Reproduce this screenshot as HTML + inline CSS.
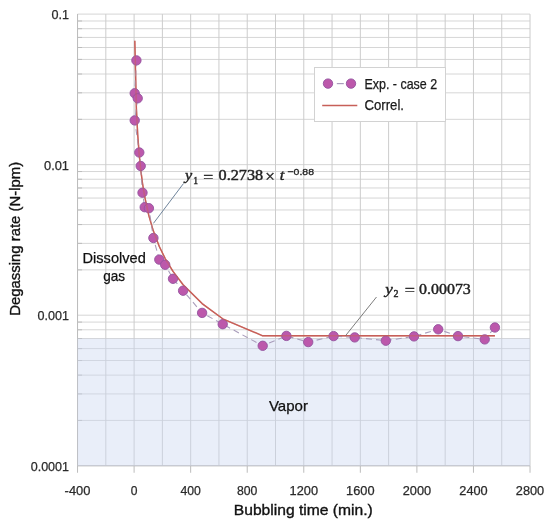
<!DOCTYPE html>
<html><head><meta charset="utf-8"><title>Degassing rate</title>
<style>html,body{margin:0;padding:0;background:#fff}svg{display:block}</style></head>
<body>
<svg width="550" height="525" viewBox="0 0 550 525">
<rect width="550" height="525" fill="#ffffff"/>
<path d="M77.54 465.75H530.02M77.54 420.43H530.02M77.54 393.92H530.02M77.54 375.11H530.02M77.54 360.52H530.02M77.54 348.60H530.02M77.54 338.52H530.02M77.54 329.79H530.02M77.54 322.09H530.02M77.54 315.20H530.02M77.54 269.88H530.02M77.54 243.37H530.02M77.54 224.56H530.02M77.54 209.97H530.02M77.54 198.05H530.02M77.54 187.97H530.02M77.54 179.24H530.02M77.54 171.54H530.02M77.54 164.65H530.02M77.54 119.33H530.02M77.54 92.82H530.02M77.54 74.01H530.02M77.54 59.42H530.02M77.54 47.50H530.02M77.54 37.42H530.02M77.54 28.69H530.02M77.54 20.99H530.02M77.54 14.10H530.02" stroke="#d6d6d6" stroke-width="1" fill="none"/>
<path d="M77.54 14.10V465.75M105.82 14.10V465.75M134.10 14.10V465.75M162.38 14.10V465.75M190.66 14.10V465.75M218.94 14.10V465.75M247.22 14.10V465.75M275.50 14.10V465.75M303.78 14.10V465.75M332.06 14.10V465.75M360.34 14.10V465.75M388.62 14.10V465.75M416.90 14.10V465.75M445.18 14.10V465.75M473.46 14.10V465.75M501.74 14.10V465.75M530.02 14.10V465.75" stroke="#cccccc" stroke-width="1" fill="none"/>
<path d="M77.54 465.75V472.75M134.10 465.75V472.75M190.66 465.75V472.75M247.22 465.75V472.75M303.78 465.75V472.75M360.34 465.75V472.75M416.90 465.75V472.75M473.46 465.75V472.75M530.02 465.75V472.75M77.54 420.43h4.5M77.54 393.92h4.5M77.54 375.11h4.5M77.54 360.52h4.5M77.54 348.60h4.5M77.54 338.52h4.5M77.54 329.79h4.5M77.54 322.09h4.5M77.54 269.88h4.5M77.54 243.37h4.5M77.54 224.56h4.5M77.54 209.97h4.5M77.54 198.05h4.5M77.54 187.97h4.5M77.54 179.24h4.5M77.54 171.54h4.5M77.54 119.33h4.5M77.54 92.82h4.5M77.54 74.01h4.5M77.54 59.42h4.5M77.54 47.50h4.5M77.54 37.42h4.5M77.54 28.69h4.5M77.54 20.99h4.5M77.54 14.10V465.75H530.02" stroke="#bcbcbc" stroke-width="1" fill="none"/>
<rect x="77.54" y="338.52" width="452.48" height="127.23" fill="#cbd7f0" fill-opacity="0.42"/>
<polyline points="134.81,40.85 136.40,108.84 137.71,134.59 139.30,155.69 140.70,169.40 142.50,183.24 144.70,196.66 148.90,215.86 153.40,231.12 159.30,246.45 165.19,258.55 173.00,271.44 183.10,284.71 202.10,303.57 222.70,318.80 262.70,335.78 286.40,335.78 308.21,335.78 333.60,335.78 354.70,335.78 385.81,335.78 414.00,335.78 438.19,335.78 458.00,335.78 484.70,335.78 494.90,335.78" fill="none" stroke="#c75f58" stroke-width="1.4" stroke-linejoin="round"/>
<polyline points="136.4,60.4 134.7,93.3 137.7,98.3 134.7,120.4 139.3,152.5 140.7,166 142.5,192.7 144.7,207.2 148.9,208.2 153.4,238 159.3,259.6 165.2,264.8 173,278.8 183.1,290.7 202.1,312.9 222.7,324.2 262.7,345.8 286.4,335.9 308.2,342.1 333.6,336.1 354.7,337.4 385.8,340.7 414,336.4 438.2,329.3 458,336.1 484.7,339.4 494.9,327.5" fill="none" stroke="#a99dbb" stroke-width="1.1" stroke-dasharray="6 4"/>
<circle cx="136.4" cy="60.4" r="4.7" fill="#bc58ab" stroke="#93549f" stroke-width="0.9"/>
<circle cx="134.7" cy="93.3" r="4.7" fill="#bc58ab" stroke="#93549f" stroke-width="0.9"/>
<circle cx="137.7" cy="98.3" r="4.7" fill="#bc58ab" stroke="#93549f" stroke-width="0.9"/>
<circle cx="134.7" cy="120.4" r="4.7" fill="#bc58ab" stroke="#93549f" stroke-width="0.9"/>
<circle cx="139.3" cy="152.5" r="4.7" fill="#bc58ab" stroke="#93549f" stroke-width="0.9"/>
<circle cx="140.7" cy="166" r="4.7" fill="#bc58ab" stroke="#93549f" stroke-width="0.9"/>
<circle cx="142.5" cy="192.7" r="4.7" fill="#bc58ab" stroke="#93549f" stroke-width="0.9"/>
<circle cx="144.7" cy="207.2" r="4.7" fill="#bc58ab" stroke="#93549f" stroke-width="0.9"/>
<circle cx="148.9" cy="208.2" r="4.7" fill="#bc58ab" stroke="#93549f" stroke-width="0.9"/>
<circle cx="153.4" cy="238" r="4.7" fill="#bc58ab" stroke="#93549f" stroke-width="0.9"/>
<circle cx="159.3" cy="259.6" r="4.7" fill="#bc58ab" stroke="#93549f" stroke-width="0.9"/>
<circle cx="165.2" cy="264.8" r="4.7" fill="#bc58ab" stroke="#93549f" stroke-width="0.9"/>
<circle cx="173" cy="278.8" r="4.7" fill="#bc58ab" stroke="#93549f" stroke-width="0.9"/>
<circle cx="183.1" cy="290.7" r="4.7" fill="#bc58ab" stroke="#93549f" stroke-width="0.9"/>
<circle cx="202.1" cy="312.9" r="4.7" fill="#bc58ab" stroke="#93549f" stroke-width="0.9"/>
<circle cx="222.7" cy="324.2" r="4.7" fill="#bc58ab" stroke="#93549f" stroke-width="0.9"/>
<circle cx="262.7" cy="345.8" r="4.7" fill="#bc58ab" stroke="#93549f" stroke-width="0.9"/>
<circle cx="286.4" cy="335.9" r="4.7" fill="#bc58ab" stroke="#93549f" stroke-width="0.9"/>
<circle cx="308.2" cy="342.1" r="4.7" fill="#bc58ab" stroke="#93549f" stroke-width="0.9"/>
<circle cx="333.6" cy="336.1" r="4.7" fill="#bc58ab" stroke="#93549f" stroke-width="0.9"/>
<circle cx="354.7" cy="337.4" r="4.7" fill="#bc58ab" stroke="#93549f" stroke-width="0.9"/>
<circle cx="385.8" cy="340.7" r="4.7" fill="#bc58ab" stroke="#93549f" stroke-width="0.9"/>
<circle cx="414" cy="336.4" r="4.7" fill="#bc58ab" stroke="#93549f" stroke-width="0.9"/>
<circle cx="438.2" cy="329.3" r="4.7" fill="#bc58ab" stroke="#93549f" stroke-width="0.9"/>
<circle cx="458" cy="336.1" r="4.7" fill="#bc58ab" stroke="#93549f" stroke-width="0.9"/>
<circle cx="484.7" cy="339.4" r="4.7" fill="#bc58ab" stroke="#93549f" stroke-width="0.9"/>
<circle cx="494.9" cy="327.5" r="4.7" fill="#bc58ab" stroke="#93549f" stroke-width="0.9"/>
<polyline points="134.81,40.85 136.40,108.84 137.71,134.59 139.30,155.69 140.70,169.40 142.50,183.24 144.70,196.66 148.90,215.86 153.40,231.12 159.30,246.45 165.19,258.55 173.00,271.44 183.10,284.71 202.10,303.57 222.70,318.80 262.70,335.78 286.40,335.78 308.21,335.78 333.60,335.78 354.70,335.78 385.81,335.78 414.00,335.78 438.19,335.78 458.00,335.78 484.70,335.78 494.90,335.78" fill="none" stroke="#c75f58" stroke-width="1.4" stroke-linejoin="round" stroke-opacity="0.5"/>
<path d="M153.4 223.4L183.5 183.5" stroke="#5f7690" stroke-width="0.9" fill="none"/>
<path d="M345.6 335.6L376.5 297" stroke="#6e6e6e" stroke-width="0.9" fill="none"/>
<rect x="314.5" y="67.5" width="131" height="54" fill="#ffffff" stroke="#d2d2d2" stroke-width="1"/>
<path d="M336.8 83.6H343.8" stroke="#a99dbb" stroke-width="1.2"/>
<circle cx="328" cy="83.6" r="4.7" fill="#bc58ab" stroke="#93549f" stroke-width="0.9"/><circle cx="351" cy="83.6" r="4.7" fill="#bc58ab" stroke="#93549f" stroke-width="0.9"/>
<path d="M322.2 105.5H357.3" stroke="#c75f58" stroke-width="1.4"/>
<text x="364.4" y="88.5" font-size="14.1" font-family="&quot;Liberation Sans&quot;, sans-serif" text-anchor="start" fill="#1a1a1a" stroke="#1a1a1a" stroke-width="0.25" textLength="72.8" lengthAdjust="spacingAndGlyphs">Exp. - case 2</text>
<text x="364.4" y="110.3" font-size="14.1" font-family="&quot;Liberation Sans&quot;, sans-serif" text-anchor="start" fill="#1a1a1a" stroke="#1a1a1a" stroke-width="0.25" textLength="39.6" lengthAdjust="spacingAndGlyphs">Correl.</text>
<text x="77.5" y="494.7" font-size="12.9" font-family="&quot;Liberation Sans&quot;, sans-serif" text-anchor="middle" fill="#2a2a2a" stroke="#2a2a2a" stroke-width="0.25" textLength="25.8" lengthAdjust="spacingAndGlyphs">-400</text>
<text x="134.1" y="494.7" font-size="12.9" font-family="&quot;Liberation Sans&quot;, sans-serif" text-anchor="middle" fill="#2a2a2a" stroke="#2a2a2a" stroke-width="0.25" textLength="6.7" lengthAdjust="spacingAndGlyphs">0</text>
<text x="190.7" y="494.7" font-size="12.9" font-family="&quot;Liberation Sans&quot;, sans-serif" text-anchor="middle" fill="#2a2a2a" stroke="#2a2a2a" stroke-width="0.25" textLength="20.4" lengthAdjust="spacingAndGlyphs">400</text>
<text x="247.2" y="494.7" font-size="12.9" font-family="&quot;Liberation Sans&quot;, sans-serif" text-anchor="middle" fill="#2a2a2a" stroke="#2a2a2a" stroke-width="0.25" textLength="20.4" lengthAdjust="spacingAndGlyphs">800</text>
<text x="303.8" y="494.7" font-size="12.9" font-family="&quot;Liberation Sans&quot;, sans-serif" text-anchor="middle" fill="#2a2a2a" stroke="#2a2a2a" stroke-width="0.25" textLength="28.4" lengthAdjust="spacingAndGlyphs">1200</text>
<text x="360.3" y="494.7" font-size="12.9" font-family="&quot;Liberation Sans&quot;, sans-serif" text-anchor="middle" fill="#2a2a2a" stroke="#2a2a2a" stroke-width="0.25" textLength="28.4" lengthAdjust="spacingAndGlyphs">1600</text>
<text x="416.9" y="494.7" font-size="12.9" font-family="&quot;Liberation Sans&quot;, sans-serif" text-anchor="middle" fill="#2a2a2a" stroke="#2a2a2a" stroke-width="0.25" textLength="28.4" lengthAdjust="spacingAndGlyphs">2000</text>
<text x="473.5" y="494.7" font-size="12.9" font-family="&quot;Liberation Sans&quot;, sans-serif" text-anchor="middle" fill="#2a2a2a" stroke="#2a2a2a" stroke-width="0.25" textLength="28.4" lengthAdjust="spacingAndGlyphs">2400</text>
<text x="530.0" y="494.7" font-size="12.9" font-family="&quot;Liberation Sans&quot;, sans-serif" text-anchor="middle" fill="#2a2a2a" stroke="#2a2a2a" stroke-width="0.25" textLength="28.4" lengthAdjust="spacingAndGlyphs">2800</text>
<text x="69" y="18.9" font-size="12.9" font-family="&quot;Liberation Sans&quot;, sans-serif" text-anchor="end" fill="#2a2a2a" stroke="#2a2a2a" stroke-width="0.25" textLength="17.5" lengthAdjust="spacingAndGlyphs">0.1</text>
<text x="69" y="169.5" font-size="12.9" font-family="&quot;Liberation Sans&quot;, sans-serif" text-anchor="end" fill="#2a2a2a" stroke="#2a2a2a" stroke-width="0.25" textLength="25" lengthAdjust="spacingAndGlyphs">0.01</text>
<text x="69" y="320.0" font-size="12.9" font-family="&quot;Liberation Sans&quot;, sans-serif" text-anchor="end" fill="#2a2a2a" stroke="#2a2a2a" stroke-width="0.25" textLength="31.4" lengthAdjust="spacingAndGlyphs">0.001</text>
<text x="69" y="470.6" font-size="12.9" font-family="&quot;Liberation Sans&quot;, sans-serif" text-anchor="end" fill="#2a2a2a" stroke="#2a2a2a" stroke-width="0.25" textLength="38.3" lengthAdjust="spacingAndGlyphs">0.0001</text>
<text x="233.8" y="514.7" font-size="14.9" font-family="&quot;Liberation Sans&quot;, sans-serif" text-anchor="start" fill="#111" stroke="#111" stroke-width="0.35" textLength="139" lengthAdjust="spacingAndGlyphs">Bubbling time (min.)</text>
<text transform="translate(20.4 315.8) rotate(-90)" font-size="15.4" font-family="&quot;Liberation Sans&quot;, sans-serif" fill="#111" stroke="#111" stroke-width="0.35" textLength="154" lengthAdjust="spacingAndGlyphs">Degassing rate (N-lpm)</text>
<text x="82.5" y="262.7" font-size="14.8" font-family="&quot;Liberation Sans&quot;, sans-serif" text-anchor="start" fill="#111" stroke="#111" stroke-width="0.25" textLength="63.3" lengthAdjust="spacingAndGlyphs">Dissolved</text>
<text x="103.3" y="280.7" font-size="14.8" font-family="&quot;Liberation Sans&quot;, sans-serif" text-anchor="start" fill="#111" stroke="#111" stroke-width="0.25" textLength="21.8" lengthAdjust="spacingAndGlyphs">gas</text>
<text x="268.9" y="411.4" font-size="14.8" font-family="&quot;Liberation Sans&quot;, sans-serif" text-anchor="start" fill="#111" stroke="#111" stroke-width="0.25" textLength="39" lengthAdjust="spacingAndGlyphs">Vapor</text>
<text x="185.0" y="180.2" font-size="15.5" font-family="&quot;Liberation Serif&quot;, serif" text-anchor="start" fill="#222" stroke="#222" stroke-width="0.4" textLength="7.2" lengthAdjust="spacingAndGlyphs" font-style="italic">y</text>
<text x="193.2" y="184.2" font-size="10.4" font-family="&quot;Liberation Serif&quot;, serif" text-anchor="start" fill="#222" stroke="#222" stroke-width="0.4" textLength="4.8" lengthAdjust="spacingAndGlyphs">1</text>
<text x="203.3" y="181.6" font-size="15.5" font-family="&quot;Liberation Serif&quot;, serif" text-anchor="start" fill="#222" stroke="#222" stroke-width="0.4" textLength="10" lengthAdjust="spacingAndGlyphs">=</text>
<text x="218.6" y="180.3" font-size="14" font-family="&quot;Liberation Serif&quot;, serif" text-anchor="start" fill="#222" stroke="#222" stroke-width="0.4" textLength="44.6" lengthAdjust="spacingAndGlyphs">0.2738</text>
<text x="265.3" y="181.6" font-size="17" font-family="&quot;Liberation Serif&quot;, serif" text-anchor="start" fill="#222" stroke="#222" stroke-width="0.4" textLength="9.6" lengthAdjust="spacingAndGlyphs">×</text>
<text x="279.8" y="180.3" font-size="15" font-family="&quot;Liberation Serif&quot;, serif" text-anchor="start" fill="#222" stroke="#222" stroke-width="0.4" textLength="4.6" lengthAdjust="spacingAndGlyphs" font-style="italic">t</text>
<text x="287.5" y="175.4" font-size="9.6" font-family="&quot;Liberation Sans&quot;, sans-serif" text-anchor="start" fill="#222" stroke="#222" stroke-width="0.3" textLength="26.5" lengthAdjust="spacingAndGlyphs">−0.88</text>
<text x="385.3" y="293.6" font-size="15.5" font-family="&quot;Liberation Serif&quot;, serif" text-anchor="start" fill="#222" stroke="#222" stroke-width="0.4" textLength="7.6" lengthAdjust="spacingAndGlyphs" font-style="italic">y</text>
<text x="393.6" y="296.8" font-size="10.4" font-family="&quot;Liberation Serif&quot;, serif" text-anchor="start" fill="#222" stroke="#222" stroke-width="0.4" textLength="5" lengthAdjust="spacingAndGlyphs">2</text>
<text x="404.7" y="294.6" font-size="15.5" font-family="&quot;Liberation Serif&quot;, serif" text-anchor="start" fill="#222" stroke="#222" stroke-width="0.4" textLength="10.2" lengthAdjust="spacingAndGlyphs">=</text>
<text x="419.1" y="293.6" font-size="14" font-family="&quot;Liberation Serif&quot;, serif" text-anchor="start" fill="#222" stroke="#222" stroke-width="0.4" textLength="51.7" lengthAdjust="spacingAndGlyphs">0.00073</text>
</svg>
</body></html>
